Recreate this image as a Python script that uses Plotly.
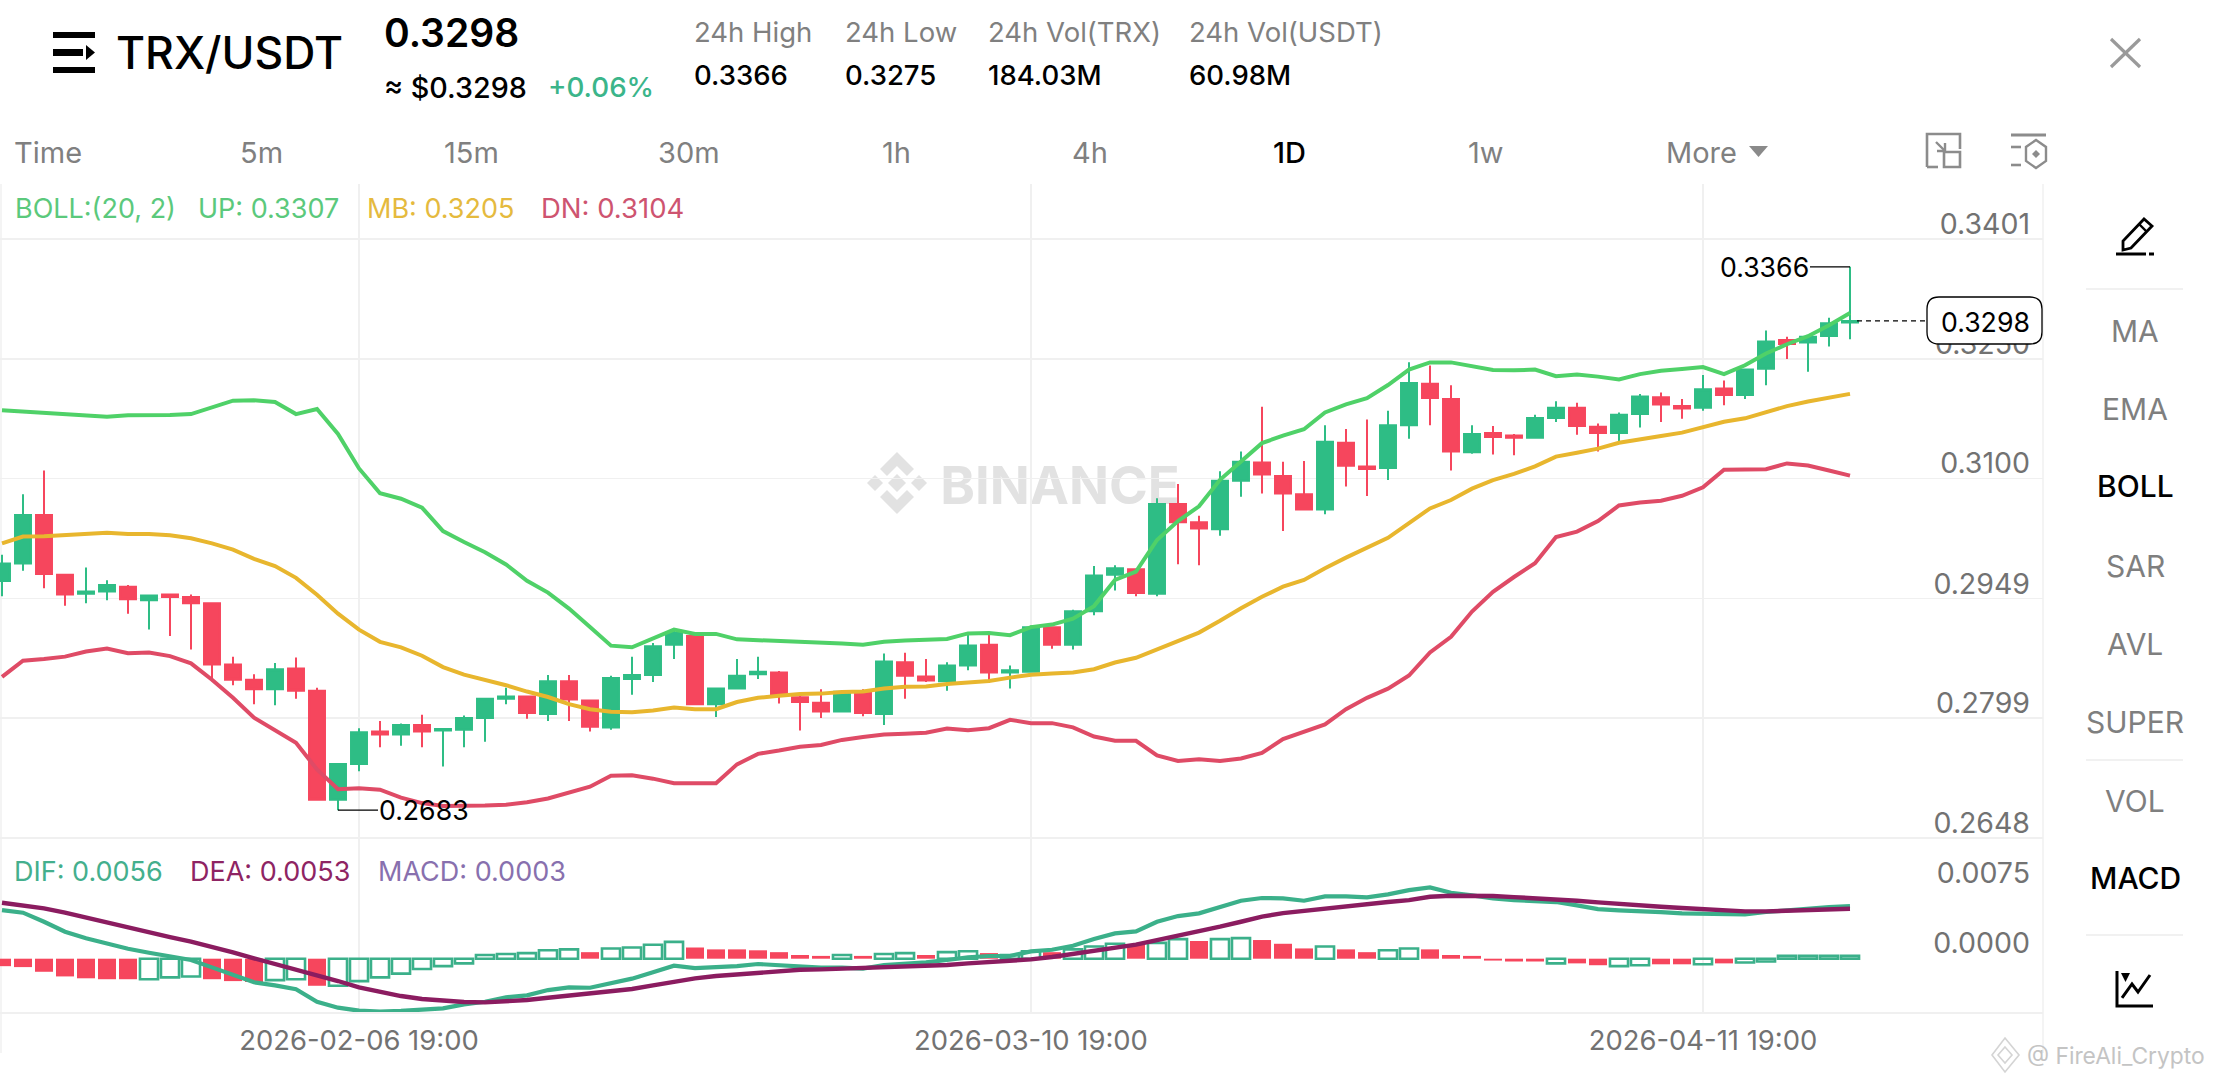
import pandas as pd
import plotly.graph_objects as go

W, H = 2220, 1080

# ---------- data ----------
first_day = "2026-01-20 19:00"
n_days = 89
opens = [.2971,.2993,.3054,.2979,.2955,.2958,.2964,.2947,.2954,.2951,
         .2943,.2866,.2847,.2835,.2861,.2833,.2696,.2741,.2782,.2778,
         .2790,.2783,.2784,.2799,.2823,.2826,.2804,.2845,.2821,.2787,
         .2848,.2853,.2891,.2902,.2816,.2836,.2854,.2856,.2825,.2818,
         .2807,.2832,.2804,.2869,.2851,.2845,.2865,.2891,.2856,.2857,
         .2913,.2891,.2933,.2979,.2986,.2955,.3068,.3045,.3036,.3097,
         .3120,.3103,.3080,.3061,.3145,.3115,.3113,.3167,.3219,.3200,
         .3133,.3157,.3154,.3151,.3176,.3189,.3165,.3157,.3181,.3202,
         .3191,.3189,.3213,.3205,.3238,.3274,.3271,.3279,.3296]
highs = [.3004,.3080,.3110,.2980,.2988,.2972,.2966,.2954,.2955,.2954,
         .2943,.2876,.2854,.2868,.2875,.2837,.2742,.2786,.2795,.2792,
         .2803,.2785,.2802,.2824,.2837,.2827,.2853,.2853,.2822,.2852,
         .2876,.2893,.2912,.2904,.2836,.2873,.2876,.2858,.2827,.2835,
         .2832,.2835,.2880,.2881,.2873,.2869,.2906,.2904,.2865,.2915,
         .2914,.2935,.2990,.2991,.2987,.3075,.3093,.3053,.3109,.3134,
         .3190,.3121,.3122,.3167,.3162,.3174,.3185,.3246,.3242,.3217,
         .3167,.3166,.3156,.3180,.3197,.3195,.3169,.3183,.3206,.3208,
         .3200,.3230,.3223,.3238,.3286,.3278,.3280,.3302,.3366]
lows = [.2952,.2984,.2962,.2940,.2943,.2947,.2930,.2910,.2902,.2885,
        .2845,.2840,.2816,.2815,.2823,.2696,.2683,.2732,.2762,.2764,
        .2762,.2738,.2762,.2769,.2816,.2798,.2795,.2795,.2782,.2784,
        .2828,.2844,.2873,.2815,.2800,.2835,.2848,.2817,.2783,.2799,
        .2806,.2801,.2790,.2823,.2844,.2833,.2859,.2843,.2836,.2856,
        .2886,.2885,.2928,.2959,.2952,.2952,.2992,.2991,.3028,.3077,
        .3081,.3034,.3060,.3055,.3090,.3078,.3098,.3150,.3167,.3110,
        .3131,.3130,.3129,.3151,.3171,.3155,.3134,.3147,.3164,.3171,
        .3175,.3185,.3192,.3200,.3217,.3250,.3234,.3266,.3275]
closes = [.2993,.3054,.2980,.2954,.2958,.2966,.2948,.2953,.2951,.2943,
          .2866,.2847,.2835,.2860,.2833,.2696,.2741,.2781,.2778,.2790,
          .2782,.2785,.2799,.2823,.2826,.2805,.2845,.2822,.2788,.2849,
          .2853,.2889,.2906,.2816,.2836,.2852,.2857,.2828,.2819,.2807,
          .2832,.2805,.2870,.2852,.2846,.2865,.2890,.2856,.2859,.2913,
          .2891,.2933,.2978,.2987,.2956,.3068,.3045,.3037,.3097,.3121,
          .3105,.3081,.3061,.3146,.3116,.3112,.3167,.3220,.3201,.3134,
          .3156,.3152,.3151,.3176,.3189,.3166,.3157,.3180,.3203,.3193,
          .3188,.3212,.3205,.3237,.3272,.3269,.3278,.3295,.3298]
boll_up = [.31856,.3184,.3183,.31819,.31793,.31777,.31793,.31793,.31798,.31809,
           .31893,.31978,.31983,.31962,.31809,.31872,.3156,.31126,.30814,.30745,
           .30634,.30338,.302,.30073,.29919,.29713,.29565,.29364,.29131,.28898,
           .28877,.28983,.29099,.29046,.29046,.28977,.28967,.28962,.28946,.28935,
           .28924,.28909,.28946,.28962,.28967,.28983,.29052,.29057,.2903,.29131,
           .29163,.29237,.29395,.29724,.2983,.30226,.30464,.3065,.30983,.31216,
           .31444,.31539,.31618,.3183,.3193,.3201,.32174,.32369,.32459,.32459,
           .32407,.32364,.32359,.32369,.32285,.32306,.3228,.32243,.32311,.32354,
           .32375,.32401,.32311,.32423,.32571,.32687,.32788,.32925,.33079]
boll_mb = [.30184,.30269,.30274,.3029,.30306,.30316,.303,.303,.30285,.30248,
           .30184,.30105,.29988,.29898,.2975,.29538,.293,.29099,.28946,.28877,
           .28771,.28628,.28533,.28469,.28401,.28321,.28252,.28162,.28099,.28067,
           .28062,.28083,.2812,.28099,.28099,.28189,.28242,.28268,.28289,.28295,
           .28316,.28321,.28358,.2838,.28385,.28417,.28438,.28454,.28496,.28533,
           .28549,.2856,.28602,.28686,.28745,.2885,.28946,.29062,.2921,.29369,
           .29512,.29639,.29724,.29872,.30004,.30131,.30253,.30438,.30623,.30729,
           .30872,.30978,.31057,.31152,.31274,.31322,.31375,.31449,.31496,.31533,
           .31576,.31645,.31713,.31756,.31835,.31909,.31967,.3201,.32063]
boll_dn = [.28506,.28708,.28729,.2876,.28824,.28861,.28803,.28813,.28766,.28676,
           .28469,.28242,.27993,.27834,.27676,.27342,.27094,.27104,.27088,.26988,
           .26919,.26882,.26882,.26887,.26898,.26929,.26977,.27046,.27125,.27263,
           .27268,.27226,.27168,.27168,.27168,.27406,.27538,.2758,.27628,.27649,
           .27713,.2775,.27781,.27792,.27803,.27855,.27834,.2786,.27966,.27924,
           .27924,.27871,.27755,.27702,.27702,.27517,.27448,.27469,.27448,.2748,
           .27549,.27723,.27818,.27908,.28099,.28242,.28358,.28522,.28813,.2901,
           .29327,.29575,.29761,.29935,.30263,.30332,.30464,.3066,.30697,.30719,
           .30782,.30888,.3111,.3111,.31115,.31189,.31163,.311,.31036]
dif = [.00521,.00493,.00396,.00289,.00218,.00157,.00107,.00064,.00029,-.00014,
       -.00093,-.00175,-.00253,-.00286,-.00328,-.00461,-.00525,-.00557,-.00568,-.0056,
       -.0055,-.00532,-.00489,-.00461,-.00414,-.00393,-.00336,-.00307,-.00311,-.00257,
       -.00214,-.00146,-.00075,-.001,-.00093,-.00079,-.00057,-.00071,-.00086,-.00096,
       -.00096,-.00107,-.00068,-.00054,-.00039,-.00014,.00014,.00029,.00029,.00079,
       .00096,.00139,.00211,.00271,.00293,.00396,.00457,.00486,.00557,.00621,
       .0065,.00646,.00621,.00668,.00668,.00657,.00689,.00735,.00764,.00707,
       .00678,.00646,.00628,.00614,.00607,.00571,.00532,.00518,.00514,.005,
       .00486,.00482,.00468,.00475,.005,.00521,.00536,.00553,.00564]
dea = [.006,.00575,.00539,.00493,.00439,.00386,.00332,.00282,.00232,.00182,
       .00129,.00068,.00004,-.00057,-.00111,-.00175,-.00239,-.00307,-.00357,-.004,
       -.00432,-.0045,-.00464,-.00468,-.00457,-.00443,-.00418,-.00396,-.00378,-.00353,
       -.00325,-.00286,-.00246,-.00211,-.00186,-.00168,-.00146,-.00136,-.00118,-.00114,
       -.00107,-.00107,-.00096,-.00089,-.00082,-.00068,-.0005,-.00036,-.00021,-.00007,
       .00018,.0005,.00082,.00111,.0015,.002,.00246,.00289,.00343,.00396,
       .0045,.00489,.00514,.00543,.00568,.00589,.00607,.00628,.00664,.00675,
       .00678,.00671,.0066,.0065,.00639,.00621,.00603,.00585,.00575,.00557,
       .00543,.00528,.00514,.00507,.00507,.00514,.00521,.00528,.00535]
macd_hist = [-.0008,-.0009,-.0014,-.0019,-.0021,-.0022,-.0022,-.0022,-.0020,-.0019,
             -.0022,-.0024,-.0025,-.0023,-.0022,-.0029,-.0029,-.0024,-.0020,-.0016,
             -.0011,-.0008,-.0005,.0004,.0005,.0006,.0009,.0010,.0007,.0011,
             .0012,.0015,.0018,.0012,.0010,.0010,.0009,.0007,.0004,.0003,
             .0004,.0003,.0005,.0006,.0004,.0007,.0008,.0006,.0004,.0008,
             .0007,.0010,.0013,.0016,.0015,.0017,.0021,.0019,.0021,.0022,
             .0020,.0016,.0011,.0013,.0010,.0007,.0009,.0011,.0010,.0004,
             .0003,-.0002,-.0003,-.0003,-.0005,-.0005,-.0007,-.0008,-.0007,-.0006,
             -.0006,-.0006,-.0005,-.0004,-.0003,.0003,.0003,.0003,.0003]
macd_state = list("rrrrrrrgggrrrggrgggggggggggg"
                  "rggggrrrrrrrgrggrgg" "rggrgggrggrggrrrgrrgg"
                  "rrrrrrgrrggrrgrgggggg")

x_tick_dates = ["2026-02-06 19:00", "2026-03-10 19:00", "2026-04-11 19:00"]
x_tick_text = ["2026-02-06 19:00", "2026-03-10 19:00", "2026-04-11 19:00"]
price_ticks = [0.3401, 0.3250, 0.3100, 0.2949, 0.2799, 0.2648]
macd_ticks = [0.0075, 0.0]
macd_tick_text = ["0.0075", "0.0000"]
periods = ["Time", "5m", "15m", "30m", "1h", "4h", "1D", "1w"]
side_items = ["MA", "EMA", "BOLL", "SAR", "AVL", "SUPER", "VOL", "MACD"]

dates = pd.date_range(first_day, periods=n_days, freq="D")

# ---------- style ----------
FONT = "Inter"
GREEN, RED = "#2EBD85", "#F6465D"
GRID = "#F0F0F0"
GREY = "#7C7C7C"
UP_C, MB_C, DN_C = "#4FD168", "#E8B62E", "#DF4B66"
DIF_C, DEA_C = "#3BB08A", "#8B1C60"


def px(x):
    return x / W


def py(y):
    return 1 - y / H


def poly(points, close=True):
    s = "M " + " L ".join(f"{px(a):.5f},{py(b):.5f}" for a, b in points)
    return s + (" Z" if close else "")


annotations, shapes = [], []


def text(x, y, s, size=25, color="#000000", anchor="left", weight=400):
    annotations.append(dict(xref="paper", yref="paper", x=px(x), y=py(y), text=s,
                            showarrow=False, xanchor=anchor, yanchor="middle",
                            borderpad=0, borderwidth=0,
                            font=dict(family=FONT, size=size, color=color, weight=weight)))


def rect(x0, y0, x1, y1, color, layer="above"):
    shapes.append(dict(type="rect", xref="paper", yref="paper", x0=px(x0), x1=px(x1),
                       y0=py(y0), y1=py(y1), fillcolor=color, line_width=0, layer=layer))


def path(points, fill=None, line=None, width=0, close=True, layer="above"):
    shapes.append(dict(type="path", xref="paper", yref="paper", path=poly(points, close),
                       fillcolor=fill or "rgba(0,0,0,0)",
                       line=dict(color=line or "rgba(0,0,0,0)", width=width), layer=layer))


def seg(x0, y0, x1, y1, color, width=1.5, dash="solid", layer="above"):
    shapes.append(dict(type="line", xref="paper", yref="paper", x0=px(x0), x1=px(x1),
                       y0=py(y0), y1=py(y1), line=dict(color=color, width=width, dash=dash),
                       layer=layer))


# ---------- traces ----------
green_kw = dict(line=dict(color=GREEN, width=2), fillcolor=GREEN)
red_kw = dict(line=dict(color=RED, width=2), fillcolor=RED)
traces = [
    go.Candlestick(x=dates, open=opens, high=highs, low=lows, close=closes,
                   increasing=green_kw, decreasing=red_kw, whiskerwidth=0,
                   xaxis="x", yaxis="y", showlegend=False, hoverinfo="skip"),
]
for series, col in ((boll_mb, MB_C), (boll_dn, DN_C), (boll_up, UP_C)):
    traces.append(go.Scatter(x=dates, y=series, mode="lines", xaxis="x", yaxis="y",
                             line=dict(color=col, width=4), showlegend=False,
                             hoverinfo="skip"))
hist_fill = [RED if s == "r" else "rgba(255,255,255,0)" for s in macd_state]
hist_line = [RED if s == "r" else DIF_C for s in macd_state]
hist_w = [0 if s == "r" else 2.6 for s in macd_state]
traces.append(go.Bar(x=dates, y=macd_hist, xaxis="x2", yaxis="y2", showlegend=False,
                     marker=dict(color=hist_fill, line=dict(color=hist_line, width=hist_w)),
                     hoverinfo="skip"))
traces.append(go.Scatter(x=dates, y=dif, mode="lines", xaxis="x2", yaxis="y2",
                         line=dict(color=DIF_C, width=4.2), showlegend=False, hoverinfo="skip"))
traces.append(go.Scatter(x=dates, y=dea, mode="lines", xaxis="x2", yaxis="y2",
                         line=dict(color=DEA_C, width=4.4), showlegend=False, hoverinfo="skip"))

# ---------- header ----------
rect(53, 32, 95, 38, "#000000")
rect(53, 49, 83, 56, "#000000")
rect(53, 67, 95, 73, "#000000")
path([(86, 45), (95, 52.5), (86, 60)], fill="#000000")
text(116, 53, "TRX/USDT", size=44.5, weight=500)
text(384, 32, "0.3298", size=39, weight=600)
text(384, 87, "≈ $0.3298", size=28.7, weight=500)
text(548, 87, "+0.06%", size=27.7, color="#3BB58A", weight=500)
for x, a, b in ((694, "24h High", "0.3366"), (845, "24h Low", "0.3275"),
                (988, "24h Vol(TRX)", "184.03M"), (1189, "24h Vol(USDT)", "60.98M")):
    text(x, 32, a, size=27.5, color="#808080")
    text(x, 75, b, size=27.5, weight=500)
seg(2111, 39, 2140, 67, "#9A9A9A", 3.2)
seg(2140, 39, 2111, 67, "#9A9A9A", 3.2)

# tabs
for p, x in zip(periods, (48, 261, 471, 689, 896, 1090, 1289, 1486)):
    text(x, 153, p, size=29, color="#000000" if p == "1D" else "#808080",
         anchor="center", weight=500 if p == "1D" else 400)
text(1666, 153, "More", size=29, color="#808080")
path([(1749, 146), (1768, 146), (1758.5, 157)], fill="#8A8A8A")
# tab icons
G = "#8C8C8C"
path([(1927, 160), (1927, 134), (1960, 134), (1960, 149)], line=G, width=2.6, close=False)
path([(1944, 152), (1960, 152), (1960, 167), (1944, 167)], line=G, width=2.6)
seg(1927, 160, 1927, 167, G, 2.6)
seg(1927, 167, 1938, 167, G, 2.6)
path([(1936, 142), (1945, 151)], line=G, width=2.4, close=False)
path([(1945, 143), (1945, 151), (1937, 151)], line=G, width=2.4, close=False)
seg(2011, 135, 2046, 135, G, 2.8)
seg(2011, 147, 2021, 147, G, 2.6)
seg(2011, 165, 2021, 165, G, 2.6)
path([(2036, 140), (2046, 147), (2046, 161), (2036, 168), (2026, 161), (2026, 147)], line=G, width=2.4)
path([(2036, 150), (2040, 154), (2036, 158), (2032, 154)], fill=G)

# ---------- indicator captions ----------
text(15, 208, "BOLL:(20, 2)", size=27, color="#5BC97C")
text(198, 208, "UP: 0.3307", size=27, color="#5BC97C")
text(367, 208, "MB: 0.3205", size=27, color="#E5BA3E")
text(541, 208, "DN: 0.3104", size=27.5, color="#CE5470")
text(14, 871, "DIF: 0.0056", size=27, color="#44AF8D")
text(190, 871, "DEA: 0.0053", size=27, color="#8E2463")
text(378, 871, "MACD: 0.0003", size=27, color="#8870AE")

# ---------- side menu ----------
for s, y in zip(side_items, (331, 408.5, 486, 566, 644, 722, 801, 878)):
    on = s in ("BOLL", "MACD")
    text(2135, y, s, size=30, color="#000000" if on else "#7F7F7F", anchor="center",
         weight=500 if on else 400)
for y in (289, 760, 935):
    seg(2086, y, 2183, y, "#EDEDED", 1.5)
# pencil
path([(2123, 250), (2123, 241), (2144, 219), (2152, 226), (2131, 248)], line="#000000", width=2.8)
seg(2139, 224, 2147, 232, "#000000", 2.4)
seg(2116, 254, 2146, 254, "#000000", 3)
seg(2149, 254, 2154, 254, "#000000", 3)
# strategy icon
path([(2117, 971), (2117, 1006), (2153, 1006)], line="#000000", width=3, close=False)
path([(2122, 998), (2132, 984), (2138, 992), (2150, 975)], line="#000000", width=3, close=False)
path([(2121, 973), (2130, 973), (2125.5, 982)], fill="#000000")

# ---------- chart decorations ----------
# frame
seg(1, 184, 1, 1053, GRID, 1.5, layer="below")
seg(2043, 184, 2043, 1053, GRID, 1.5, layer="below")

# watermark
WM = "#E2E2E2"
cx, cy = 897, 483
path([(cx, cy-31), (cx+17, cy-14), (cx+10, cy-7), (cx, cy-17), (cx-10, cy-7), (cx-17, cy-14)], fill=WM, layer="below")
path([(cx, cy+31), (cx+17, cy+14), (cx+10, cy+7), (cx, cy+17), (cx-10, cy+7), (cx-17, cy+14)], fill=WM, layer="below")
path([(cx, cy-9), (cx+9, cy), (cx, cy+9), (cx-9, cy)], fill=WM, layer="below")
path([(cx-22, cy-8), (cx-14, cy), (cx-22, cy+8), (cx-30, cy)], fill=WM, layer="below")
path([(cx+22, cy-8), (cx+30, cy), (cx+22, cy+8), (cx+14, cy)], fill=WM, layer="below")
shapes.append(dict(type="rect", xref="paper", yref="paper", x0=px(936), x1=px(1184),
                   y0=py(455), y1=py(511), line_width=0, layer="below",
                   label=dict(text="BINANCE", textposition="middle center",
                              font=dict(family=FONT, size=52.5, color=WM, weight=700))))

# current price tag
last_close = closes[-1]
shapes.append(dict(type="line", xref="paper", yref="y", x0=px(1857), x1=px(1927),
                   y0=last_close, y1=last_close,
                   line=dict(color="#000000", width=1.2, dash="5px,4px"), layer="above"))
x0, x1, y0, y1, r = px(1927), px(2042), py(297), py(344), 12
rx, ry = r / W, r / H
shapes.append(dict(type="path", xref="paper", yref="paper", fillcolor="#FFFFFF",
                   line=dict(color="#000000", width=1.3), layer="above",
                   path=(f"M {x0+rx},{y0} L {x1-rx},{y0} Q {x1},{y0} {x1},{y0-ry} "
                         f"L {x1},{y1+ry} Q {x1},{y1} {x1-rx},{y1} L {x0+rx},{y1} "
                         f"Q {x0},{y1} {x0},{y1+ry} L {x0},{y0-ry} Q {x0},{y0} {x0+rx},{y0} Z")))
text(1985, 322, f"{last_close:.4f}", size=26.7, anchor="center")

# high / low callouts
hi_idx, lo_idx = highs.index(max(highs)), lows.index(min(lows))
annotations.append(dict(x=dates[hi_idx], y=highs[hi_idx], xref="x", yref="y", text=f"{highs[hi_idx]:.4f}",
                        showarrow=True, arrowhead=0, arrowwidth=1.3, arrowcolor="#000000",
                        ax=-40, ay=0, xanchor="right", yanchor="middle", standoff=0,
                        font=dict(family=FONT, size=26.7, color="#000000"), borderpad=0))
annotations.append(dict(x=dates[lo_idx], y=lows[lo_idx], xref="x", yref="y", text=f"{lows[lo_idx]:.4f}",
                        showarrow=True, arrowhead=0, arrowwidth=1.3, arrowcolor="#000000",
                        ax=40, ay=0, xanchor="left", yanchor="middle", standoff=0,
                        font=dict(family=FONT, size=26.7, color="#000000"), borderpad=0))

# author mark
path([(2005, 1038), (2019, 1055), (2005, 1072), (1992, 1055)], line="#D4D4D4", width=1.6)
path([(2005, 1047), (2012, 1055), (2005, 1063), (1998, 1055)], line="#D4D4D4", width=1.6)
text(2027, 1055, "@ FireAli_Crypto", size=22.8, color="#C4C4C4")

# ---------- axes ----------
day = pd.Timedelta(days=1)
x_start = dates[0] - day * (2 / 21)
x_end = dates[0] + day * ((2043 - 2) / 21)
common_x = dict(range=[x_start, x_end], type="date", tickmode="array", tickvals=x_tick_dates,
                showgrid=True, gridcolor=GRID, gridwidth=1.5, zeroline=False, ticks="",
                rangeslider=dict(visible=False), domain=[0, 2043 / W])
price_per_px = (0.3401 - 0.2648) / (838 - 239)
price_top = 0.3401 + (239 - 184) * price_per_px
# the price pane runs a little past its lowest grid line so that the last label stays drawn
price_bot = 0.2648 - (880 - 838) * price_per_px
macd_scale = 0.0075 / 70
macd_top = (958.7 - 838) * macd_scale
macd_bot = -(1012 - 958.7) * macd_scale

fig = go.Figure(traces)
fig.update_layout(
    width=W, height=H, margin=dict(l=0, r=0, t=0, b=0, pad=0), autosize=False,
    paper_bgcolor="#FFFFFF", plot_bgcolor="rgba(0,0,0,0)",
    showlegend=False, hovermode=False, dragmode=False,
    boxgap=0.24, boxgroupgap=0, bargap=0.14, barmode="overlay",
    font=dict(family=FONT, color=GREY),
    xaxis=dict(common_x, anchor="y", showticklabels=False),
    xaxis2=dict(common_x, anchor="y2", ticktext=x_tick_text, showticklabels=True,
                tickfont=dict(family=FONT, size=27.4, color="#727272"), ticklabelstandoff=3,
                showline=True, linecolor=GRID, linewidth=2),
    yaxis=dict(domain=[py(880), py(184)], range=[price_bot, price_top], side="right", anchor="x",
               tickmode="array", tickvals=price_ticks, ticktext=[f"{v:.4f}" for v in price_ticks],
               ticklabelposition="inside", ticklabelshift=-15, ticklabelstandoff=10,
               tickfont=dict(family=FONT, size=28.5, color="#727272"),
               showgrid=True, gridcolor=GRID, gridwidth=1.5, zeroline=False, ticks=""),
    yaxis2=dict(domain=[py(1012), py(838)], range=[macd_bot, macd_top], side="right", anchor="x2",
                tickmode="array", tickvals=macd_ticks, ticktext=macd_tick_text,
                ticklabelposition="inside", ticklabelshift=-16, ticklabelstandoff=10,
                tickfont=dict(family=FONT, size=28.5, color="#727272"),
                showgrid=False, zeroline=False, ticks=""),
    shapes=shapes, annotations=annotations,
)

fig.write_html("out.html", config=dict(displayModeBar=False, staticPlot=True),
               post_script="document.body.style.margin='0';document.body.style.overflow='hidden';")
